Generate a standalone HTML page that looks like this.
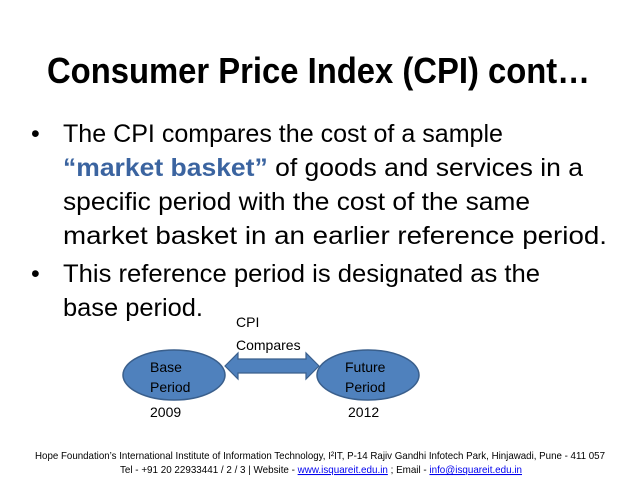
<!DOCTYPE html>
<html><head><meta charset="utf-8"><style>body{margin:0;background:#fff}svg{display:block}</style></head>
<body>
<svg width="638" height="478" viewBox="0 0 638 478" font-family="'Liberation Sans',sans-serif">
<rect width="638" height="478" fill="#fff"/>
<text x="47" y="83" font-size="36" font-weight="bold" fill="#000" textLength="543" lengthAdjust="spacingAndGlyphs">Consumer Price Index (CPI) cont…</text>
<g font-size="25" fill="#000">
<text x="31" y="142">•</text>
<text x="63" y="142" textLength="440" lengthAdjust="spacingAndGlyphs">The CPI compares the cost of a sample</text>
<text x="63" y="176" textLength="520" lengthAdjust="spacingAndGlyphs"><tspan fill="#3b64a0" font-weight="bold">“market basket”</tspan> of goods and services in a</text>
<text x="63" y="210" textLength="467" lengthAdjust="spacingAndGlyphs">specific period with the cost of the same</text>
<text x="63" y="244" textLength="544" lengthAdjust="spacingAndGlyphs">market basket in an earlier reference period.</text>
<text x="31" y="282">•</text>
<text x="63" y="282" textLength="477" lengthAdjust="spacingAndGlyphs">This reference period is designated as the</text>
<text x="63" y="316" textLength="140" lengthAdjust="spacingAndGlyphs">base period.</text>
</g>
<g font-size="14" fill="#000">
<text x="236" y="327">CPI</text><text x="236" y="350">Compares</text><text x="236" y="372">both</text>
</g>
<ellipse cx="174" cy="375" rx="51" ry="25" fill="#4f81bd" stroke="#3a5f8c" stroke-width="1.5"/>
<ellipse cx="368" cy="375" rx="51" ry="25" fill="#4f81bd" stroke="#3a5f8c" stroke-width="1.5"/>
<path d="M225,366 L238,353 L238,359 L306,359 L306,353 L319,366 L306,379 L306,373 L238,373 L238,379 Z" fill="#4f81bd" stroke="#3a5f8c" stroke-width="1.2"/>
<g font-size="14" fill="#000">
<text x="150" y="372"><tspan x="150">Base</tspan><tspan x="150" dy="20">Period</tspan></text>
<text x="345" y="372"><tspan x="345">Future</tspan><tspan x="345" dy="20">Period</tspan></text>
<text x="150" y="417">2009</text>
<text x="348" y="417">2012</text>
</g>
<g font-size="10.5" fill="#000">
<text x="35" y="459" textLength="570" lengthAdjust="spacingAndGlyphs">Hope Foundation’s International Institute of Information Technology, I²IT, P-14 Rajiv Gandhi Infotech Park, Hinjawadi, Pune - 411 057</text>
<text x="120" y="473" textLength="402" lengthAdjust="spacingAndGlyphs">Tel - +91 20 22933441 / 2 / 3  |  Website - <tspan fill="#0000ee" text-decoration="underline">www.isquareit.edu.in</tspan> ; Email - <tspan fill="#0000ee" text-decoration="underline">info@isquareit.edu.in</tspan></text>
</g>
</svg>
</body></html>
